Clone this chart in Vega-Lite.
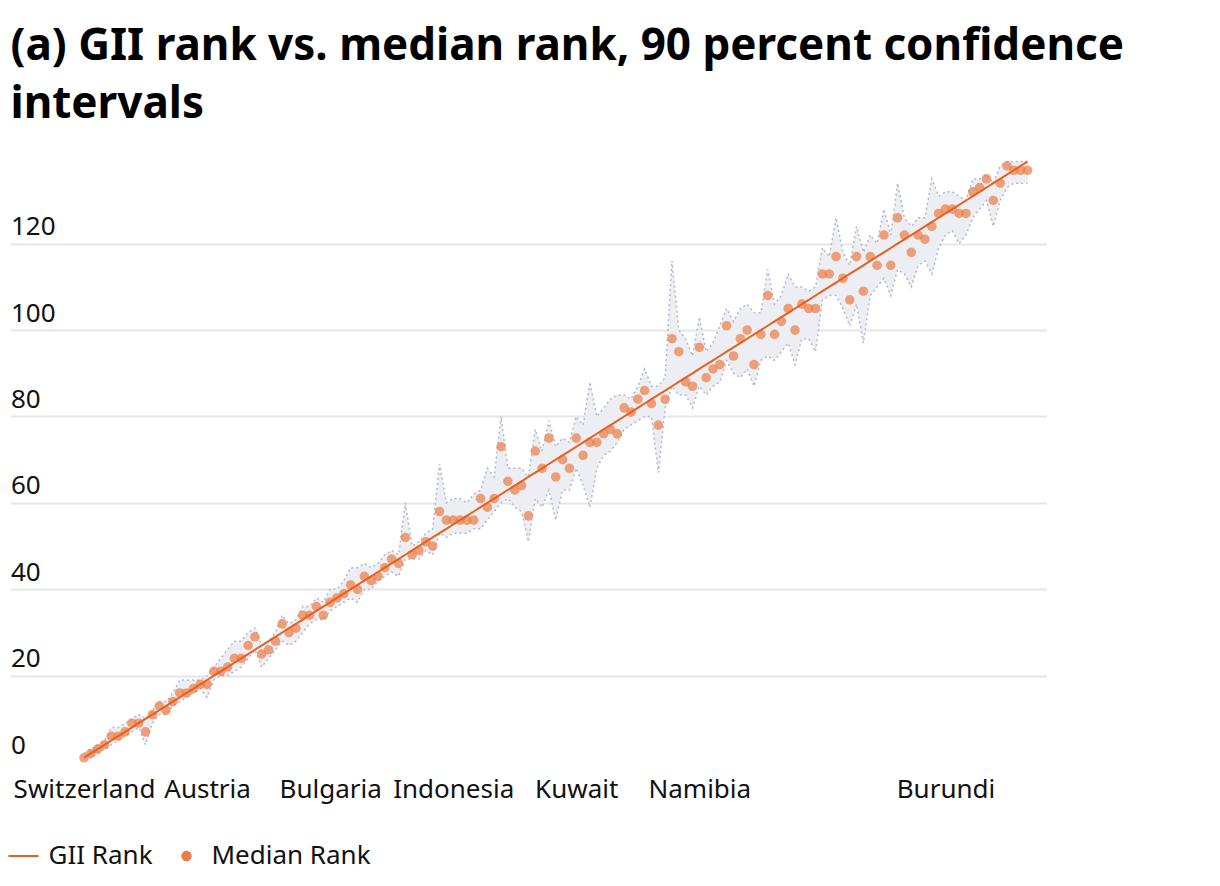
{
  "$schema": "https://vega.github.io/schema/vega-lite/v6.json",
  "width": 1036,
  "height": 630,
  "autosize": {"type": "none"},
  "padding": {"left": 10.5, "top": 140, "right": 173.5, "bottom": 116},
  "background": "white",
  "config": {
    "font": "Noto Sans",
    "view": {"stroke": null},
    "axis": {"labelFont": "Noto Sans", "labelFontSize": 26, "labelColor": "#111", "title": null}
  },
  "title": {
    "text": ["(a) GII rank vs. median rank, 90 percent confidence", "intervals"],
    "anchor": "start",
    "frame": "group",
    "font": "Noto Sans",
    "fontSize": 44,
    "fontWeight": "bold",
    "color": "#000",
    "lineHeight": 58,
    "offset": 13
  },
  "data": {"values": [
    {"i":0,"gii":1,"med":1,"lo":1,"hi":2},
    {"i":1,"gii":2,"med":2,"lo":1,"hi":3},
    {"i":2,"gii":3,"med":3,"lo":2,"hi":4},
    {"i":3,"gii":4,"med":4,"lo":3,"hi":5},
    {"i":4,"gii":5,"med":6,"lo":4,"hi":8},
    {"i":5,"gii":6,"med":6,"lo":5,"hi":8},
    {"i":6,"gii":7,"med":7,"lo":6,"hi":9},
    {"i":7,"gii":8,"med":9,"lo":7,"hi":10},
    {"i":8,"gii":9,"med":9,"lo":8,"hi":11},
    {"i":9,"gii":10,"med":7,"lo":4,"hi":10},
    {"i":10,"gii":11,"med":11,"lo":9,"hi":12},
    {"i":11,"gii":12,"med":13,"lo":11,"hi":14},
    {"i":12,"gii":13,"med":12,"lo":11,"hi":14},
    {"i":13,"gii":14,"med":14,"lo":13,"hi":16},
    {"i":14,"gii":15,"med":16,"lo":14,"hi":19},
    {"i":15,"gii":16,"med":16,"lo":15,"hi":19},
    {"i":16,"gii":17,"med":17,"lo":16,"hi":19},
    {"i":17,"gii":18,"med":18,"lo":17,"hi":19},
    {"i":18,"gii":19,"med":18,"lo":15,"hi":20},
    {"i":19,"gii":20,"med":21,"lo":19,"hi":22},
    {"i":20,"gii":21,"med":21,"lo":20,"hi":24},
    {"i":21,"gii":22,"med":22,"lo":20,"hi":26},
    {"i":22,"gii":23,"med":24,"lo":21,"hi":28},
    {"i":23,"gii":24,"med":24,"lo":22,"hi":28},
    {"i":24,"gii":25,"med":27,"lo":24,"hi":30},
    {"i":25,"gii":26,"med":29,"lo":26,"hi":31},
    {"i":26,"gii":27,"med":25,"lo":22,"hi":27},
    {"i":27,"gii":28,"med":26,"lo":24,"hi":28},
    {"i":28,"gii":29,"med":28,"lo":26,"hi":30},
    {"i":29,"gii":30,"med":32,"lo":28,"hi":34},
    {"i":30,"gii":31,"med":30,"lo":27,"hi":32},
    {"i":31,"gii":32,"med":31,"lo":28,"hi":33},
    {"i":32,"gii":33,"med":34,"lo":30,"hi":36},
    {"i":33,"gii":34,"med":34,"lo":32,"hi":36},
    {"i":34,"gii":35,"med":36,"lo":33,"hi":38},
    {"i":35,"gii":36,"med":34,"lo":33,"hi":37},
    {"i":36,"gii":37,"med":37,"lo":35,"hi":40},
    {"i":37,"gii":38,"med":38,"lo":36,"hi":40},
    {"i":38,"gii":39,"med":39,"lo":37,"hi":42},
    {"i":39,"gii":40,"med":41,"lo":38,"hi":45},
    {"i":40,"gii":41,"med":40,"lo":37,"hi":45},
    {"i":41,"gii":42,"med":43,"lo":40,"hi":46},
    {"i":42,"gii":43,"med":42,"lo":40,"hi":45},
    {"i":43,"gii":44,"med":43,"lo":42,"hi":46},
    {"i":44,"gii":45,"med":45,"lo":43,"hi":48},
    {"i":45,"gii":46,"med":47,"lo":44,"hi":49},
    {"i":46,"gii":47,"med":46,"lo":43,"hi":48},
    {"i":47,"gii":48,"med":52,"lo":47,"hi":60},
    {"i":48,"gii":49,"med":48,"lo":47,"hi":50},
    {"i":49,"gii":50,"med":49,"lo":47,"hi":51},
    {"i":50,"gii":51,"med":51,"lo":49,"hi":53},
    {"i":51,"gii":52,"med":50,"lo":48,"hi":54},
    {"i":52,"gii":53,"med":58,"lo":53,"hi":69},
    {"i":53,"gii":54,"med":56,"lo":52,"hi":60},
    {"i":54,"gii":55,"med":56,"lo":53,"hi":61},
    {"i":55,"gii":56,"med":56,"lo":53,"hi":61},
    {"i":56,"gii":57,"med":56,"lo":53,"hi":60},
    {"i":57,"gii":58,"med":56,"lo":54,"hi":62},
    {"i":58,"gii":59,"med":61,"lo":54,"hi":63},
    {"i":59,"gii":60,"med":59,"lo":56,"hi":68},
    {"i":60,"gii":61,"med":61,"lo":58,"hi":66},
    {"i":61,"gii":62,"med":73,"lo":60,"hi":80},
    {"i":62,"gii":63,"med":65,"lo":61,"hi":68},
    {"i":63,"gii":64,"med":63,"lo":59,"hi":68},
    {"i":64,"gii":65,"med":64,"lo":58,"hi":68},
    {"i":65,"gii":66,"med":57,"lo":51,"hi":66},
    {"i":66,"gii":67,"med":72,"lo":61,"hi":77},
    {"i":67,"gii":68,"med":68,"lo":59,"hi":72},
    {"i":68,"gii":69,"med":75,"lo":63,"hi":79},
    {"i":69,"gii":70,"med":66,"lo":56,"hi":73},
    {"i":70,"gii":71,"med":70,"lo":63,"hi":75},
    {"i":71,"gii":72,"med":68,"lo":63,"hi":74},
    {"i":72,"gii":73,"med":75,"lo":68,"hi":80},
    {"i":73,"gii":74,"med":71,"lo":64,"hi":78},
    {"i":74,"gii":75,"med":74,"lo":59,"hi":88},
    {"i":75,"gii":76,"med":74,"lo":68,"hi":80},
    {"i":76,"gii":77,"med":76,"lo":71,"hi":82},
    {"i":77,"gii":78,"med":77,"lo":72,"hi":84},
    {"i":78,"gii":79,"med":76,"lo":74,"hi":85},
    {"i":79,"gii":80,"med":82,"lo":77,"hi":85},
    {"i":80,"gii":81,"med":81,"lo":78,"hi":84},
    {"i":81,"gii":82,"med":84,"lo":79,"hi":87},
    {"i":82,"gii":83,"med":86,"lo":80,"hi":91},
    {"i":83,"gii":84,"med":83,"lo":80,"hi":87},
    {"i":84,"gii":85,"med":78,"lo":67,"hi":87},
    {"i":85,"gii":86,"med":84,"lo":82,"hi":89},
    {"i":86,"gii":87,"med":98,"lo":87,"hi":116},
    {"i":87,"gii":88,"med":95,"lo":85,"hi":100},
    {"i":88,"gii":89,"med":88,"lo":85,"hi":98},
    {"i":89,"gii":90,"med":87,"lo":82,"hi":94},
    {"i":90,"gii":91,"med":96,"lo":87,"hi":103},
    {"i":91,"gii":92,"med":89,"lo":85,"hi":95},
    {"i":92,"gii":93,"med":91,"lo":87,"hi":97},
    {"i":93,"gii":94,"med":92,"lo":88,"hi":101},
    {"i":94,"gii":95,"med":101,"lo":93,"hi":105},
    {"i":95,"gii":96,"med":94,"lo":90,"hi":102},
    {"i":96,"gii":97,"med":98,"lo":89,"hi":105},
    {"i":97,"gii":98,"med":100,"lo":91,"hi":106},
    {"i":98,"gii":99,"med":92,"lo":87,"hi":104},
    {"i":99,"gii":100,"med":99,"lo":93,"hi":104},
    {"i":100,"gii":101,"med":108,"lo":94,"hi":114},
    {"i":101,"gii":102,"med":99,"lo":93,"hi":106},
    {"i":102,"gii":103,"med":102,"lo":95,"hi":108},
    {"i":103,"gii":104,"med":105,"lo":97,"hi":113},
    {"i":104,"gii":105,"med":100,"lo":92,"hi":110},
    {"i":105,"gii":106,"med":106,"lo":98,"hi":110},
    {"i":106,"gii":107,"med":105,"lo":98,"hi":109},
    {"i":107,"gii":108,"med":105,"lo":95,"hi":110},
    {"i":108,"gii":109,"med":113,"lo":107,"hi":119},
    {"i":109,"gii":110,"med":113,"lo":108,"hi":117},
    {"i":110,"gii":111,"med":117,"lo":108,"hi":126},
    {"i":111,"gii":112,"med":112,"lo":105,"hi":118},
    {"i":112,"gii":113,"med":107,"lo":101,"hi":115},
    {"i":113,"gii":114,"med":117,"lo":106,"hi":124},
    {"i":114,"gii":115,"med":109,"lo":97,"hi":118},
    {"i":115,"gii":116,"med":117,"lo":108,"hi":122},
    {"i":116,"gii":117,"med":115,"lo":110,"hi":120},
    {"i":117,"gii":118,"med":122,"lo":112,"hi":128},
    {"i":118,"gii":119,"med":115,"lo":108,"hi":122},
    {"i":119,"gii":120,"med":126,"lo":114,"hi":134},
    {"i":120,"gii":121,"med":122,"lo":113,"hi":126},
    {"i":121,"gii":122,"med":118,"lo":110,"hi":124},
    {"i":122,"gii":123,"med":122,"lo":115,"hi":126},
    {"i":123,"gii":124,"med":121,"lo":116,"hi":126},
    {"i":124,"gii":125,"med":124,"lo":113,"hi":135},
    {"i":125,"gii":126,"med":127,"lo":119,"hi":131},
    {"i":126,"gii":127,"med":128,"lo":122,"hi":132},
    {"i":127,"gii":128,"med":128,"lo":123,"hi":132},
    {"i":128,"gii":129,"med":127,"lo":120,"hi":131},
    {"i":129,"gii":130,"med":127,"lo":122,"hi":130},
    {"i":130,"gii":131,"med":132,"lo":126,"hi":135},
    {"i":131,"gii":132,"med":133,"lo":128,"hi":135},
    {"i":132,"gii":133,"med":135,"lo":130,"hi":136},
    {"i":133,"gii":134,"med":130,"lo":124,"hi":134},
    {"i":134,"gii":135,"med":134,"lo":130,"hi":138},
    {"i":135,"gii":136,"med":138,"lo":133,"hi":139},
    {"i":136,"gii":137,"med":137,"lo":134,"hi":139},
    {"i":137,"gii":138,"med":137,"lo":134,"hi":139},
    {"i":138,"gii":139,"med":137,"lo":134,"hi":139}
  ]},
  "encoding": {
    "x": {
      "field": "i",
      "type": "quantitative",
      "scale": {"domain": [-10.75, 140.78], "nice": false, "zero": false},
      "axis": {
        "values": [0, 18, 36, 54, 72, 90, 126],
        "labelExpr": "datum.value == 0 ? 'Switzerland' : datum.value == 18 ? 'Austria' : datum.value == 36 ? 'Bulgaria' : datum.value == 54 ? 'Indonesia' : datum.value == 72 ? 'Kuwait' : datum.value == 90 ? 'Namibia' : datum.value == 126 ? 'Burundi' : ''",
        "grid": false,
        "domain": false,
        "ticks": false,
        "labelPadding": 6,
        "labelFlush": false,
        "labelOverlap": false
      }
    }
  },
  "layer": [
    {
      "mark": {"type": "area", "color": "#eceef4", "opacity": 1},
      "encoding": {
        "y": {
          "field": "lo",
          "type": "quantitative",
          "scale": {"domain": [-1.83, 144.0], "nice": false, "zero": false},
          "axis": {
            "values": [0, 20, 40, 60, 80, 100, 120],
            "grid": true,
            "gridColor": {"condition": {"test": "datum.value === 0", "value": "transparent"}, "value": "#e6e6e6"},
            "gridWidth": 2,
            "domain": false,
            "ticks": false,
            "labelAlign": "left",
            "labelBaseline": "alphabetic",
            "labelPadding": 0,
            "labelOffset": -9
          }
        },
        "y2": {"field": "hi"}
      }
    },
    {
      "mark": {"type": "line", "color": "#b3b7cc", "strokeWidth": 1.5, "strokeDash": [2, 3]},
      "encoding": {"y": {"field": "lo", "type": "quantitative"}}
    },
    {
      "mark": {"type": "line", "color": "#b3b7cc", "strokeWidth": 1.5, "strokeDash": [2, 3]},
      "encoding": {"y": {"field": "hi", "type": "quantitative"}}
    },
    {
      "mark": {"type": "point", "filled": true, "size": 92, "opacity": 0.7, "strokeWidth": 0},
      "encoding": {
        "y": {"field": "med", "type": "quantitative"},
        "color": {"datum": "Median Rank"}
      }
    },
    {
      "mark": {"type": "line", "strokeWidth": 2},
      "encoding": {
        "y": {"field": "gii", "type": "quantitative"},
        "color": {
          "datum": "GII Rank",
          "scale": {"domain": ["GII Rank", "Median Rank"], "range": ["#e8601c", "#ec7c45"]},
          "legend": {
            "orient": "none",
            "legendX": 0,
            "legendY": 703,
            "direction": "horizontal",
            "title": null,
            "symbolSize": 900,
            "labelFontSize": 26,
            "labelFont": "Noto Sans",
            "labelColor": "#111",
            "labelOffset": 12,
            "columnPadding": 20,
            "encode": {
              "symbols": {
                "update": {
                  "shape": {"signal": "datum.label === 'GII Rank' ? 'stroke' : 'circle'"},
                  "stroke": {"signal": "datum.label === 'GII Rank' ? '#e8601c' : 'transparent'"},
                  "fill": {"signal": "datum.label === 'GII Rank' ? 'transparent' : '#f3a27c'"},
                  "strokeWidth": {"value": 2},
                  "size": {"signal": "datum.label === 'GII Rank' ? 900 : 70"},
                  "opacity": {"value": 1}
                }
              }
            }
          }
        }
      }
    }
  ]
}
